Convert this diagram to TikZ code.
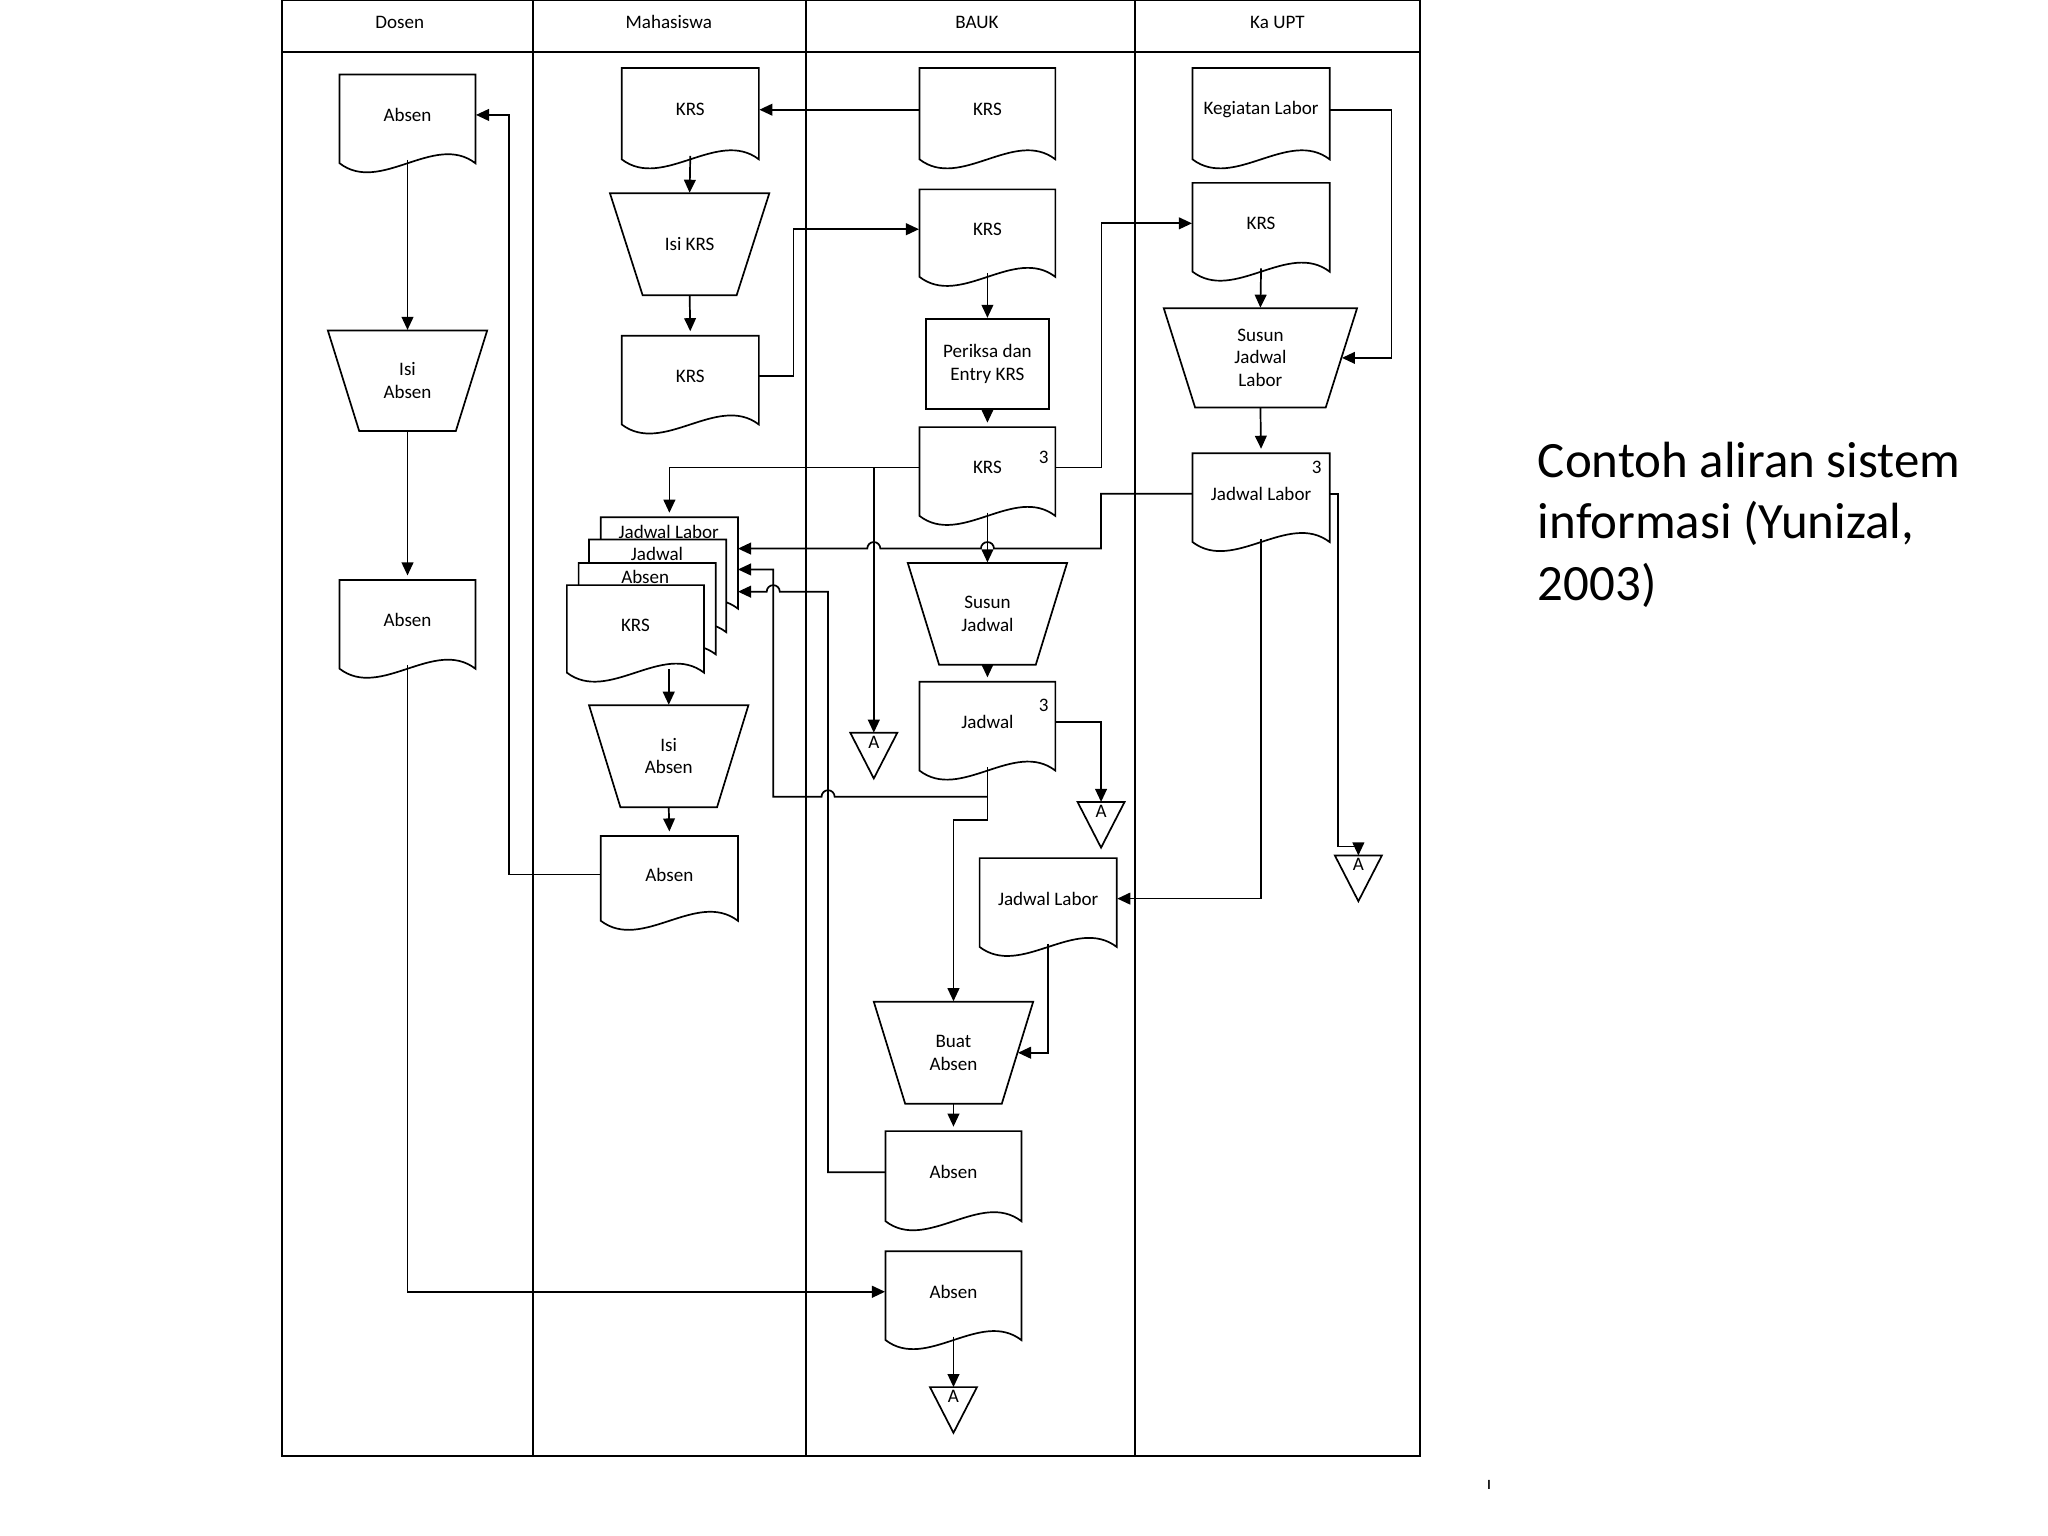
\documentclass[tikz,border=0pt]{standalone}
\usepackage{fontspec}
\setmainfont{Carlito}
\usetikzlibrary{arrows.meta}
\tikzset{
  lbl/.style={font=\fontsize{7.3}{8.6}\selectfont, align=center, inner sep=0pt},
  shp/.style={draw, line width=0.65pt, fill=white},
  conn/.style={draw, line width=0.65pt, -{Triangle[length=5pt,width=4.5pt]}},
  ln/.style={draw, line width=0.65pt},
}
% name, left, right, top, bottom, text
\newcommand\docu[6]{%
  \draw[shp] (#2,#4) -- (#3,#4) -- (#3,#5) .. controls ({#3-0.3*(#3-#2)},#5-24) and ({#2+0.3*(#3-#2)},#5+24) .. (#2,#5) -- cycle;
  \node[lbl, minimum width={(#3-#2)*0.5pt}, minimum height={(#5-#4)*0.5pt}] (#1) at ({(#2+#3)/2},{(#4+#5)/2-3}) {#6};}
% name, cx, top, halftop, halfbot, bottom, text
\newcommand\trap[7]{%
  \draw[shp] (#2-#4,#3) -- (#2+#4,#3) -- (#2+#5,#6) -- (#2-#5,#6) -- cycle;
  \node[lbl, minimum width={(#4+#5)*0.5pt}, minimum height={(#6-#3)*0.5pt}] (#1) at (#2,{(#3+#6)/2}) {#7};}
\newcommand\offp[3]{%
  \draw[shp] (#2-18,#3) -- (#2+18,#3) -- (#2,#3+35) -- cycle;
  \node[lbl, anchor=north, inner sep=1pt] (#1) at (#2,#3) {A};}
\begin{document}
\begin{tikzpicture}[x=0.5pt,y=-0.5pt]
\useasboundingbox (0,0) rectangle (1568,1176);
% frame
\draw[ln] (216,0) rectangle (1087,1115);
\draw[ln] (216,40) -- (1087,40);
\draw[ln] (408,0) -- (408,1115);
\draw[ln] (617,0) -- (617,1115);
\draw[ln] (869,0) -- (869,1115);
\node[lbl] (h1) at (306,17) {Dosen};
\node[lbl] (h2) at (512,17) {Mahasiswa};
\node[lbl] (h3) at (748,17) {BAUK};
\node[lbl] (h4) at (978,17) {Ka UPT};
% Dosen
\docu{dA}{260}{364}{57}{125}{Absen}
\trap{dI}{312}{253}{61}{37}{330}{Isi\\Absen}
\docu{dB}{260}{364}{444}{512}{Absen}
% Mahasiswa
\docu{mK1}{476}{581}{52}{122}{KRS}
\trap{mI}{528}{148}{61}{36}{226}{Isi KRS}
\docu{mK2}{476}{581}{257}{325}{KRS}
\docu{sJL}{460}{565}{396}{466}{}
\node[lbl] (tJL) at (512,407) {Jadwal Labor};
\docu{sJ}{451}{556}{413}{484}{}
\node[lbl] (tJ) at (503,424) {Jadwal};
\docu{sA}{443}{548}{431}{501}{}
\node[lbl] (tA) at (494,442) {Absen};
\docu{sK}{434}{539}{448}{515}{KRS}
\trap{mIA}{512}{540}{61}{37}{618}{Isi\\Absen}
\docu{mA}{460}{565}{640}{705}{Absen}
% BAUK
\docu{bK1}{704}{808}{52}{122}{KRS}
\docu{bK2}{704}{808}{145}{212}{KRS}
\node[lbl, draw, line width=0.65pt, minimum width=47pt, minimum height=34.5pt] (bP) at (756,278.5) {Periksa dan\\Entry KRS};
\docu{bK3}{704}{808}{327}{395}{KRS}
\node[lbl] (n3a) at (799,350) {3};
\trap{bS}{756}{431}{61}{37}{509}{Susun\\Jadwal}
\docu{bJ}{704}{808}{522}{590}{Jadwal}
\node[lbl] (n3b) at (799,540) {3};
\docu{bJL}{750}{855}{657}{725}{Jadwal Labor}
\trap{bB}{730}{767}{61}{37}{845}{Buat\\Absen}
\docu{bA1}{678}{782}{866}{935}{Absen}
\docu{bA2}{678}{782}{958}{1026}{Absen}
\offp{oA1}{669}{561}
\offp{oA2}{843}{614}
\offp{oA3}{730}{1062}
\offp{oA4}{1040}{655}
% Ka UPT
\docu{uKL}{913}{1018}{52}{122}{Kegiatan Labor}
\docu{uK}{913}{1018}{140}{208}{KRS}
\trap{uS}{965}{236}{74}{50}{312}{Susun\\Jadwal\\Labor}
\docu{uJL}{913}{1018}{347}{415}{Jadwal Labor}
\node[lbl] (n3c) at (1008,358) {3};
% entry points on stack
\coordinate (inJL) at (565,420);
\coordinate (inJ) at (565,436);
\coordinate (inA) at (565,453);
% connectors
\draw[conn] (dA.south) -- (dI.north);
\draw[conn] (dI.south) -- (dB.north);
\draw[conn] (dB.south) |- (bA2.west);
\draw[conn] (mK1.south) -- (mI.north);
\draw[conn] (mI.south) -- (mK2.north);
\draw[conn] (mK2.east) -- ++(26,0) |- (bK2.west);
\draw[conn] (bK1.west) -- (mK1.east);
\draw[conn] (mA.west) -- ++(-70,0) |- (dA.east);
\draw[conn] (mIA.north |- sK.south) -- (mIA.north);
\draw[conn] (mIA.south) -- (mA.north);
\draw[conn] (bK2.south) -- (bP.north);
\draw[conn] (bP.south) -- (bK3.north);
\draw[conn] (bK3.east) -- ++(35,0) |- (uK.west);
\draw[conn] (bK3.west) -| (sJL.north);
\draw[conn] (oA1.north |- bK3.west) -- (oA1.north);
\draw[conn] (bK3.south) -- (bS.north);
\draw[conn] (bS.south) -- (bJ.north);
\draw[conn] (bJ.east) -| (oA2.north);
\draw[conn] (bJ.south) -- (756,628) -| (bB.north);
\draw[conn] (756,610) -- (639,610) arc (0:-180:5) -- (592,610) -- (592,436) -- (inJ);
\draw[conn] (bA1.west) -| (634,453) -- (597,453) arc (0:-180:5) -- (inA);
\draw[conn] (uJL.west) -| (843,420) -- (761,420) arc (0:-180:5) -- (674,420) arc (0:-180:5) -- (inJL);
\draw[conn] (bJL.south) |- (bB.east);
\draw[conn] (bB.south) -- (bA1.north);
\draw[conn] (bA2.south) -- (oA3.north);
\draw[conn] (uKL.east) -- ++(47,0) |- (uS.east);
\draw[conn] (uK.south) -- (uS.north);
\draw[conn] (uS.south) -- (uJL.north);
\draw[conn] (uJL.south) |- (bJL.east);
\draw[conn] (uJL.east) -- ++(6,0) |- (1032,648) -| (oA4.north);
% title
\node[anchor=north west, align=left, inner sep=0pt, font=\fontsize{19.5}{23.5}\selectfont] (title) at (1177,338) {Contoh aliran sistem\\informasi (Yunizal,\\2003)};
\node[lbl] (mark) at (1140,1137) {ı};
\end{tikzpicture}
\end{document}
